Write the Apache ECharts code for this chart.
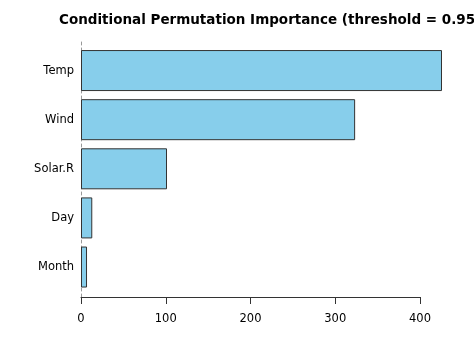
<!DOCTYPE html>
<html>
<head>
<meta charset="utf-8">
<script src="https://cdn.jsdelivr.net/npm/echarts@6/dist/echarts.min.js"></script>
<style>
  html, body { margin: 0; padding: 0; background: #fff; }
  #main { width: 474px; height: 338px; }
</style>
</head>
<body>
<div id="main"></div>
<script>
// variables, top to bottom
var categories = ['Temp', 'Wind', 'Solar.R', 'Day', 'Month'];
var importance = [426, 323.5, 101.5, 13.3, 7.1];
var tickValues = [0, 100, 200, 300, 400];

var chart = echarts.init(document.getElementById('main'));
var font = 'DejaVu Sans';

var option = {
  animation: false,
  title: {
    text: 'Conditional Permutation Importance (threshold = 0.95)',
    left: 59,
    top: 13,
    padding: 0,
    textStyle: { fontFamily: font, fontSize: 13.5, fontWeight: 'bold', color: '#000' }
  },
  grid: [
    // axis grid (R plot region)
    { left: 81, right: 54, top: 41, bottom: 41 },
    // bar grid
    { left: 81, right: 32, top: 46, bottom: 46.4 }
  ],
  xAxis: [
    {
      gridIndex: 0,
      type: 'value',
      min: tickValues[0],
      max: tickValues[tickValues.length - 1],
      interval: 100,
      splitLine: { show: false },
      axisLine: { show: true, lineStyle: { color: '#333', width: 1 } },
      axisTick: { show: true, length: 7, lineStyle: { color: '#333' } },
      axisLabel: { fontFamily: font, fontSize: 11.5, color: '#000', margin: 16 }
    },
    {
      gridIndex: 1,
      type: 'value',
      min: 0,
      max: 426,
      show: false
    }
  ],
  yAxis: [
    {
      gridIndex: 0,
      type: 'value',
      min: 0,
      max: 1,
      splitLine: { show: false },
      axisTick: { show: false },
      axisLabel: { show: false },
      axisLine: { show: true, onZero: false, lineStyle: { color: '#999', type: [3, 3], width: 1 } }
    },
    {
      gridIndex: 1,
      type: 'category',
      inverse: true,
      data: categories,
      axisLine: { show: false },
      axisTick: { show: false },
      axisLabel: { fontFamily: font, fontSize: 11.5, color: '#000', margin: 7 }
    }
  ],
  series: [
    {
      type: 'bar',
      xAxisIndex: 1,
      yAxisIndex: 1,
      data: importance,
      barWidth: 41,
      itemStyle: { color: '#87CEEB', borderColor: '#333', borderWidth: 1 }
    }
  ]
};
chart.setOption(option);
</script>
</body>
</html>
